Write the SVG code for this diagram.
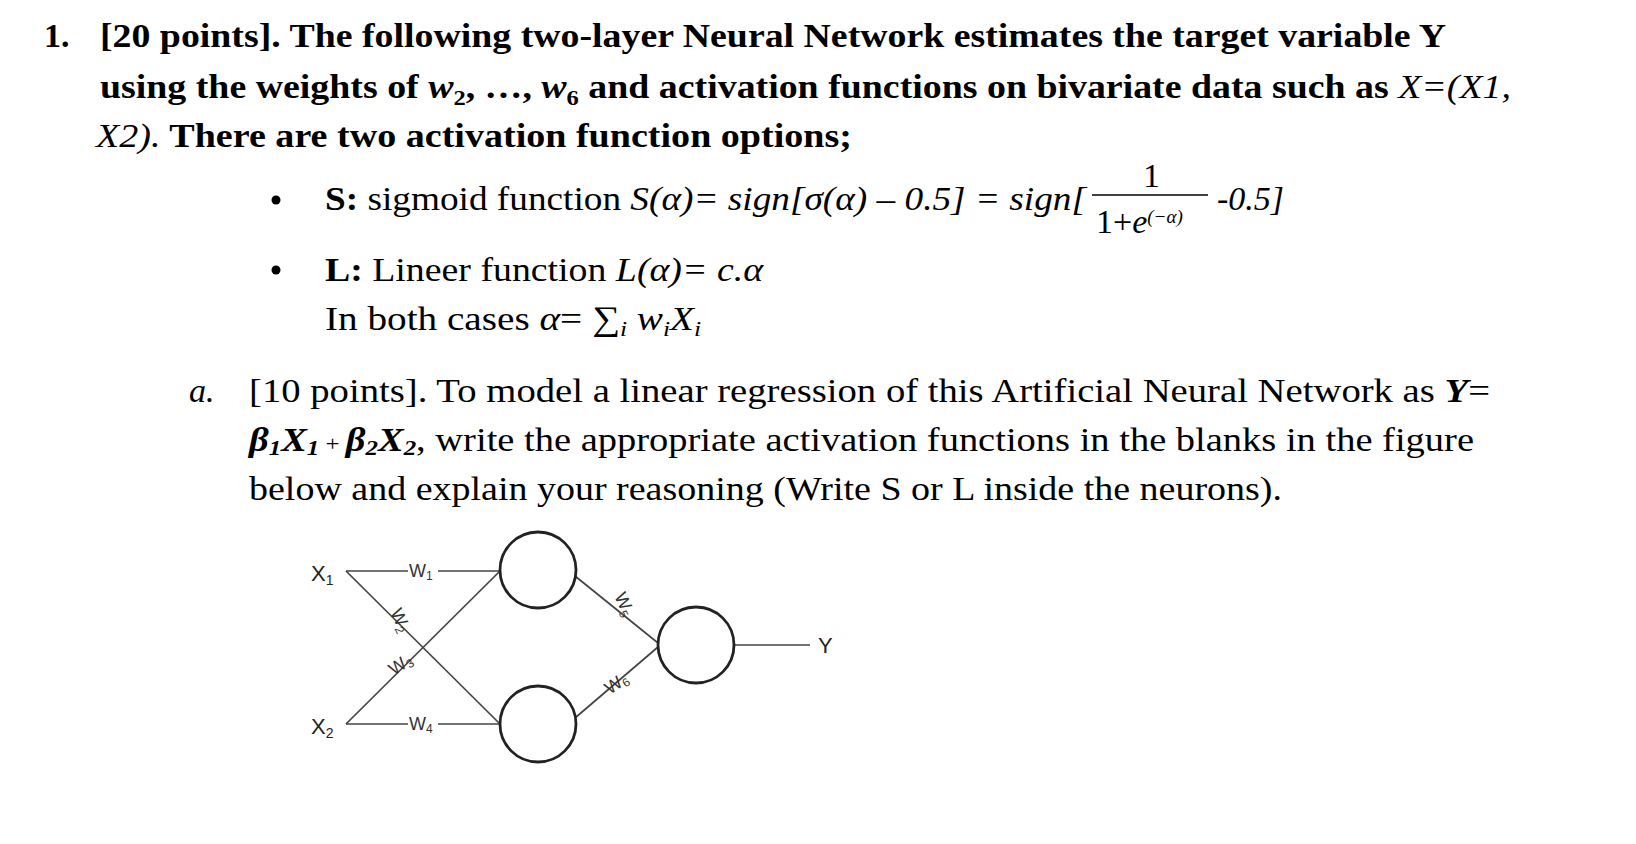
<svg xmlns="http://www.w3.org/2000/svg" width="1636" height="844" viewBox="0 0 1636 844">
<style>
.t{font-family:"Liberation Serif",serif;font-size:34px;fill:#000}
.b{font-weight:bold}
.i{font-style:italic}
.n{font-family:"Liberation Sans",Arial,sans-serif;font-size:22px;fill:#222}
.ln{stroke:#444;stroke-width:1.7;fill:none}
.nd{stroke:#222;stroke-width:2.8;fill:#fff}
</style>
<rect width="1636" height="844" fill="#fff"/>
<g id="text">
<text class="t b" x="44" y="47">1.</text>
<text class="t b" x="100" y="47" textLength="1346" lengthAdjust="spacingAndGlyphs">[20 points]. The following two-layer Neural Network estimates the target variable Y</text>
<text class="t b" x="100" y="98" textLength="1411" lengthAdjust="spacingAndGlyphs">using the weights of <tspan class="i">w</tspan><tspan font-size="22" dy="7">2</tspan><tspan dy="-7">, …, </tspan><tspan class="i">w</tspan><tspan font-size="22" dy="7">6</tspan><tspan dy="-7"> and activation functions on bivariate data such as </tspan><tspan font-weight="normal" class="i">X=(X1,</tspan></text>
<text class="t b" x="96" y="147" textLength="756" lengthAdjust="spacingAndGlyphs"><tspan font-weight="normal" class="i">X2).</tspan> There are two activation function options;</text>
<circle cx="276" cy="200" r="4.5"/>
<text class="t" x="325" y="210" textLength="761" lengthAdjust="spacingAndGlyphs"><tspan class="b">S:</tspan> sigmoid function <tspan class="i">S(α)= sign[σ(α) – 0.5] = sign[</tspan></text>
<text class="t" x="1143" y="187" font-size="26">1</text>
<line x1="1092" y1="195" x2="1208" y2="195" stroke="#000" stroke-width="1.5"/>
<text class="t" x="1096" y="233" font-size="26">1+<tspan class="i">e</tspan><tspan font-size="19" dy="-10" class="i">(−α)</tspan></text>
<text class="t i" x="1217" y="210">-0.5]</text>
<circle cx="276" cy="270" r="4.5"/>
<text class="t" x="325" y="281" textLength="438" lengthAdjust="spacingAndGlyphs"><tspan class="b">L:</tspan> Lineer function <tspan class="i">L(α)= c.α</tspan></text>
<text class="t" x="325" y="330" textLength="376" lengthAdjust="spacingAndGlyphs">In both cases <tspan class="i">α</tspan>= ∑<tspan class="i" font-size="22" dy="6">i</tspan><tspan class="i" dy="-6"> w</tspan><tspan class="i" font-size="22" dy="6">i</tspan><tspan class="i" dy="-6">X</tspan><tspan class="i" font-size="22" dy="6">i</tspan></text>
<text class="t i" x="189" y="402">a.</text>
<text class="t" x="249" y="402" textLength="1241" lengthAdjust="spacingAndGlyphs">[10 points].  To model a linear regression of this Artificial Neural Network as <tspan class="b i">Y</tspan>=</text>
<text class="t" x="249" y="451" textLength="1225" lengthAdjust="spacingAndGlyphs"><tspan class="b i">β</tspan><tspan class="b i" font-size="22" dy="4">1</tspan><tspan class="b i" dy="-4">X</tspan><tspan class="b i" font-size="22" dy="4">1</tspan><tspan dy="-4" font-size="22"> + </tspan><tspan class="b i">β</tspan><tspan class="b i" font-size="22" dy="4">2</tspan><tspan class="b i" dy="-4">X</tspan><tspan class="b i" font-size="22" dy="4">2</tspan><tspan dy="-4">, write the appropriate activation functions in the blanks in the figure</tspan></text>
<text class="t" x="249" y="500" textLength="1033" lengthAdjust="spacingAndGlyphs">below and explain your reasoning (Write S or L inside the neurons).</text>
</g>
<g id="connectors">
<line class="ln" x1="346" y1="571" x2="500" y2="571"/>
<line class="ln" x1="346" y1="724" x2="500" y2="724"/>
<line class="ln" x1="346" y1="571" x2="500" y2="724"/>
<line class="ln" x1="346" y1="724" x2="500" y2="571"/>
<line class="ln" x1="575" y1="576" x2="658" y2="643"/>
<line class="ln" x1="575" y1="718" x2="658" y2="647"/>
<line class="ln" x1="734" y1="645" x2="810" y2="645"/>
</g>
<g id="labels">
<text class="n" x="311" y="581">X<tspan font-size="14" dy="4">1</tspan></text>
<text class="n" x="311" y="734">X<tspan font-size="14" dy="4">2</tspan></text>
<text class="n" x="818" y="653">Y</text>
<g font-family="Liberation Sans,Arial,sans-serif" font-size="18" fill="#333">
<rect x="408" y="563" width="30" height="16" fill="#fff"/>
<text x="409" y="577">W<tspan font-size="12" dy="3">1</tspan></text>
<rect x="408" y="716" width="30" height="16" fill="#fff"/>
<text x="409" y="730">W<tspan font-size="12" dy="3">4</tspan></text>
<text transform="translate(390,612) rotate(65)">W<tspan font-size="12" dy="3">2</tspan></text>
<text transform="translate(394,676) rotate(-35)">W<tspan font-size="12" dy="3">3</tspan></text>
<text transform="translate(614,596) rotate(65)">W<tspan font-size="12" dy="3">5</tspan></text>
<text transform="translate(610,695) rotate(-35)">W<tspan font-size="12" dy="3">6</tspan></text>
</g>
</g>
<g id="n1"><circle class="nd" cx="538" cy="570" r="38"/></g>
<g id="n2"><circle class="nd" cx="538" cy="724" r="38"/></g>
<g id="n3"><circle class="nd" cx="696" cy="645" r="38"/></g>
</svg>
